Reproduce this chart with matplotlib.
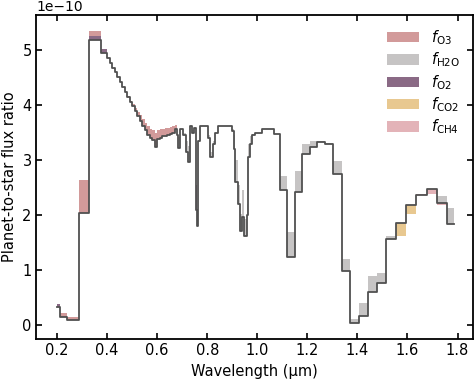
import numpy as np
import matplotlib
matplotlib.use("Agg")
import matplotlib.pyplot as plt
from matplotlib.patches import Patch

# ---- data (flux ratio in units of 1e-10) ----
wl_edges = [0.198, 0.213, 0.239, 0.286, 0.328, 0.376, 0.398,
            0.41, 0.42, 0.43, 0.44, 0.45, 0.46, 0.47, 0.48, 0.49, 0.50,
            0.51, 0.52, 0.53, 0.54, 0.55, 0.56, 0.57, 0.58, 0.59, 0.60,
            0.61, 0.62, 0.63, 0.64, 0.65, 0.66, 0.67, 0.678, 0.684, 0.69,
            0.705, 0.715, 0.722, 0.73, 0.74, 0.748, 0.757, 0.760, 0.763,
            0.77, 0.805, 0.812, 0.822, 0.832, 0.842, 0.90, 0.906, 0.912,
            0.921, 0.932, 0.94, 0.948, 0.958, 0.964, 0.971, 0.978, 0.992,
            1.02, 1.065, 1.09, 1.12, 1.151, 1.18, 1.21, 1.237, 1.27, 1.304,
            1.337, 1.371, 1.407, 1.442, 1.48, 1.516, 1.555, 1.594, 1.634,
            1.677, 1.718, 1.758, 1.785]

flux = [0.33, 0.15, 0.09, 2.04, 5.18, 4.95,
        4.85, 4.77, 4.68, 4.59, 4.50, 4.42, 4.33, 4.24, 4.15, 4.06,
        3.98, 3.89, 3.80, 3.71, 3.62, 3.54, 3.46, 3.40, 3.36, 3.24,
        3.38, 3.41, 3.43, 3.44, 3.46, 3.48, 3.50, 3.56, 3.45, 3.22,
        3.57, 3.45, 3.14, 2.96, 3.62, 3.50, 3.58, 2.10, 1.80,
        3.35, 3.62, 3.40, 3.05, 3.30, 3.50, 3.62, 3.52, 3.20,
        2.60, 2.20, 1.72, 1.96, 1.63, 2.00, 3.05, 3.29, 3.45,
        3.50, 3.57, 3.48, 2.45, 1.24, 2.42, 3.11, 3.24, 3.32, 3.29,
        2.74, 0.99, 0.04, 0.17, 0.60, 0.76, 1.56, 1.86, 2.18,
        2.36, 2.47, 2.22, 1.84]

d_o3 = [0.00, 0.07, 0.06, 0.59, 0.16, 0.00,
        0.00, 0.00, 0.00, 0.00, 0.00, 0.00, 0.00, 0.00, 0.01, 0.02,
        0.04, 0.06, 0.08, 0.10, 0.12, 0.14, 0.15, 0.17, 0.19, 0.25,
        0.16, 0.15, 0.14, 0.14, 0.13, 0.12, 0.11, 0.08, 0.00, 0.00,
        0.00, 0.00, 0.00, 0.00, 0.00, 0.00, 0.00, 0.00, 0.00,
        0.00, 0.00, 0.00, 0.00, 0.00, 0.00, 0.00, 0.00, 0.00,
        0.00, 0.00, 0.00, 0.00, 0.00, 0.00, 0.00, 0.00, 0.00,
        0.00, 0.00, 0.00, 0.00, 0.00, 0.00, 0.00, 0.00, 0.00, 0.00,
        0.00, 0.00, 0.00, 0.00, 0.00, 0.00, 0.00, 0.00, 0.00,
        0.00, 0.00, 0.00, 0.00]

d_h2o = [0.00, 0.00, 0.00, 0.00, 0.00, 0.00,
         0.00, 0.00, 0.00, 0.00, 0.00, 0.00, 0.00, 0.00, 0.00, 0.00,
         0.00, 0.00, 0.00, 0.00, 0.00, 0.00, 0.00, 0.00, 0.00, 0.00,
         0.00, 0.00, 0.00, 0.00, 0.00, 0.00, 0.00, 0.00, 0.00, 0.20,
         0.00, 0.05, 0.20, 0.30, 0.00, 0.05, 0.00, 0.00, 0.00,
         0.00, 0.00, 0.05, 0.10, 0.05, 0.00, 0.00, 0.05, 0.25,
         0.40, 0.35, 0.30, 0.50, 0.30, 0.20, 0.25, 0.15, 0.03,
         0.00, 0.00, 0.00, 0.27, 0.45, 0.38, 0.18, 0.11, 0.03, 0.02,
         0.25, 0.21, 0.07, 0.24, 0.30, 0.19, 0.07, 0.00, 0.00,
         0.00, 0.00, 0.12, 0.29]

d_o2 = [0.05, 0.02, 0.00, 0.00, 0.07, 0.06,
        0.00, 0.00, 0.00, 0.00, 0.00, 0.00, 0.00, 0.00, 0.00, 0.00,
        0.00, 0.00, 0.00, 0.00, 0.00, 0.00, 0.00, 0.00, 0.00, 0.00,
        0.00, 0.00, 0.00, 0.00, 0.00, 0.00, 0.00, 0.00, 0.00, 0.00,
        0.00, 0.00, 0.00, 0.00, 0.00, 0.00, 0.00, 0.45, 0.00,
        0.00, 0.00, 0.00, 0.00, 0.00, 0.00, 0.00, 0.00, 0.00,
        0.00, 0.00, 0.00, 0.00, 0.00, 0.00, 0.00, 0.00, 0.00,
        0.00, 0.00, 0.00, 0.00, 0.00, 0.00, 0.00, 0.00, 0.00, 0.00,
        0.00, 0.00, 0.00, 0.00, 0.00, 0.00, 0.00, 0.00, 0.00,
        0.00, 0.00, 0.00, 0.00]

d_co2 = [0.0] * 80 + [-0.24, -0.16, 0.00, 0.00, 0.00, 0.00]

d_ch4 = [0.0] * 82 + [0.03, -0.09, -0.03, 0.00]

species_labels = [r'$f_{\rm O3}$', r'$f_{\rm H2O}$', r'$f_{\rm O2}$',
                  r'$f_{\rm CO2}$', r'$f_{\rm CH4}$']
species_colors = ['#d29a9a', '#c6c4c4', '#8a6a85', '#e8c890', '#e3b3b8']

# ---- plotting ----
plt.rcParams['font.family'] = ['DejaVu Sans']
plt.rcParams['font.size'] = 10.5

fig = plt.figure(figsize=(4.74, 3.8), dpi=100)
ax = fig.add_axes([0.077, 0.109, 0.921, 0.851])

scale = 1e-10
edges = np.array(wl_edges)
f = np.array(flux)
f_ext = np.append(f, f[-1]) * scale

deltas = [d_o3, d_h2o, d_o2, d_co2, d_ch4]
draw_order = [1, 0, 2, 3, 4]
for i in draw_order:
    d = np.array(deltas[i])
    d_ext = np.append(d, d[-1]) * scale
    ax.fill_between(edges, f_ext, f_ext + d_ext, step='post',
                    color=species_colors[i], linewidth=0, zorder=2 + i * 0.1)

ax.step(edges, f_ext, where='post', color='#505050', lw=1.3, zorder=5)

ax.set_xlim(0.118, 1.862)
ax.set_ylim(-0.24e-10, 5.63e-10)
ax.set_xticks(np.arange(0.2, 1.81, 0.2))
ax.set_yticks(np.arange(0, 6) * 1e-10)
ax.set_xlabel('Wavelength (µm)')
ax.set_ylabel('Planet-to-star flux ratio')
ax.yaxis.get_offset_text().set_fontsize(10)

ax.tick_params(direction='in', top=True, right=True, length=4, width=1.2)
for s in ax.spines.values():
    s.set_linewidth(1.3)

handles = [Patch(facecolor=c, edgecolor='none') for c in species_colors]
ax.legend(handles, species_labels, loc='upper right', frameon=False,
          handlelength=2.2, labelspacing=0.25, fontsize=10.5)

fig.savefig('out.png', dpi=100)
